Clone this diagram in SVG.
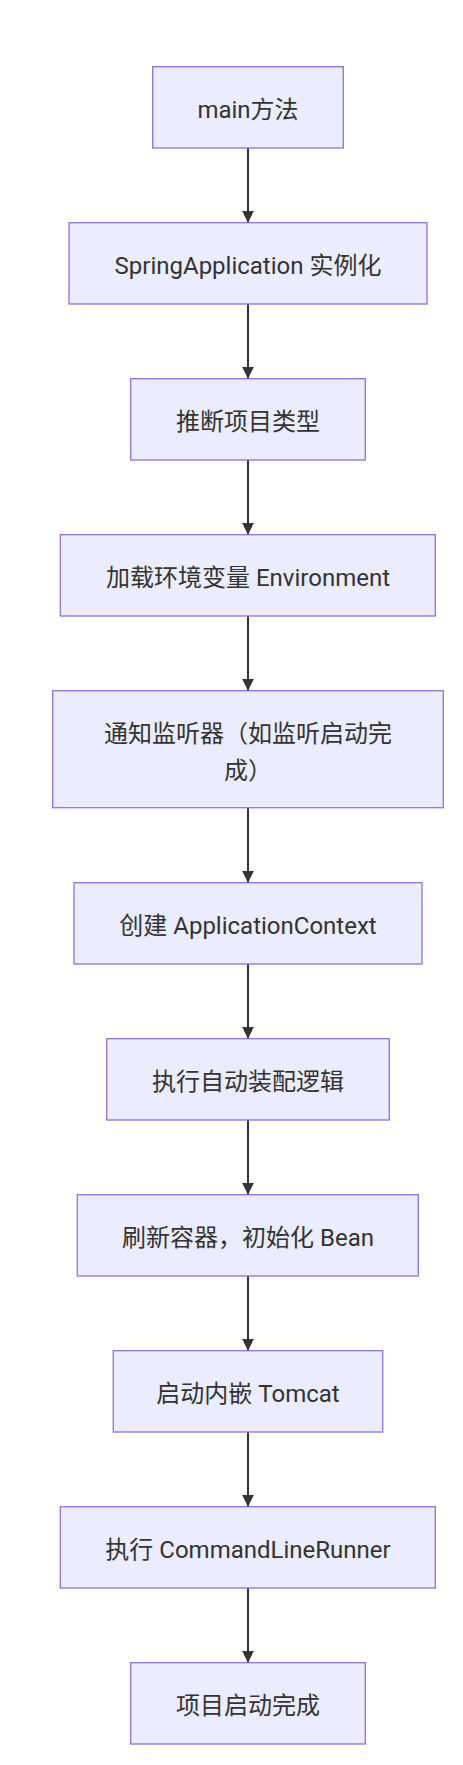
<svg xmlns="http://www.w3.org/2000/svg" width="463" height="1765" viewBox="0 0 463 1765">
<style>
.node rect{fill:#ECECFF;stroke:#9370DB;stroke-width:1.3}
.node text{font-family:Roboto,"Noto Sans CJK SC",sans-serif;font-size:24px;fill:#333;text-anchor:middle}
.edges path{stroke:#333;stroke-width:2;fill:none}
</style>
<defs>
<marker id="arrow" viewBox="0 0 12 12" refX="12" refY="6" markerWidth="12" markerHeight="12" markerUnits="userSpaceOnUse" orient="auto">
<path d="M0,0 L12,6 L0,12 z" fill="#333"/>
</marker>
</defs>
<rect width="463" height="1765" fill="#fff"/>
<g class="edges">
<path d="M248,148 V222.7" marker-end="url(#arrow)"/>
<path d="M248,304 V378.7" marker-end="url(#arrow)"/>
<path d="M248,460 V534.7" marker-end="url(#arrow)"/>
<path d="M248,616 V690.7" marker-end="url(#arrow)"/>
<path d="M248,807.7 V882.7" marker-end="url(#arrow)"/>
<path d="M248,964 V1038.7" marker-end="url(#arrow)"/>
<path d="M248,1120 V1194.7" marker-end="url(#arrow)"/>
<path d="M248,1276 V1350.7" marker-end="url(#arrow)"/>
<path d="M248,1432 V1506.7" marker-end="url(#arrow)"/>
<path d="M248,1588 V1662.7" marker-end="url(#arrow)"/>
</g>
<g class="node" id="n1"><rect x="152.7" y="66.7" width="190.6" height="81.3"/><text x="248" y="118">main方法</text></g>
<g class="node" id="n2"><rect x="69" y="222.7" width="358" height="81.3"/><text x="248" y="274">SpringApplication 实例化</text></g>
<g class="node" id="n3"><rect x="130.7" y="378.7" width="234.6" height="81.3"/><text x="248" y="430">推断项目类型</text></g>
<g class="node" id="n4"><rect x="60.3" y="534.7" width="375" height="81.3"/><text x="248" y="586">加载环境变量 Environment</text></g>
<g class="node" id="n5"><rect x="52.7" y="690.7" width="390.6" height="117"/><text x="248" y="742">通知监听器（如监听启动完</text><text x="248" y="779">成）</text></g>
<g class="node" id="n6"><rect x="74" y="882.7" width="348" height="81.3"/><text x="248" y="934">创建 ApplicationContext</text></g>
<g class="node" id="n7"><rect x="106.7" y="1038.7" width="282.6" height="81.3"/><text x="248" y="1090">执行自动装配逻辑</text></g>
<g class="node" id="n8"><rect x="77.3" y="1194.7" width="341" height="81.3"/><text x="248" y="1246">刷新容器，初始化 Bean</text></g>
<g class="node" id="n9"><rect x="113.3" y="1350.7" width="269.4" height="81.3"/><text x="248" y="1402">启动内嵌 Tomcat</text></g>
<g class="node" id="n10"><rect x="60.3" y="1506.7" width="375" height="81.3"/><text x="248" y="1558">执行 CommandLineRunner</text></g>
<g class="node" id="n11"><rect x="130.7" y="1662.7" width="234.6" height="81.3"/><text x="248" y="1714">项目启动完成</text></g>
</svg>
